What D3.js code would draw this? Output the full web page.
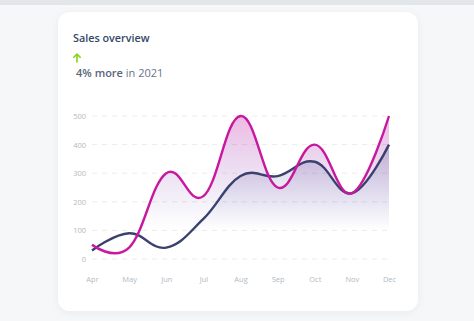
<!DOCTYPE html>
<html>
<head>
<meta charset="utf-8">
<script src="https://cdn.jsdelivr.net/npm/d3@7"></script>
<style>
  html, body { margin: 0; padding: 0; background: #f6f7f8; width: 474px; height: 321px; overflow: hidden; font-family: "Open Sans", sans-serif; }
  svg { display: block; }
</style>
</head>
<body>
<svg id="chart" width="474" height="321"></svg>
<script>
const months = ["Apr", "May", "Jun", "Jul", "Aug", "Sep", "Oct", "Nov", "Dec"];
const mobileApps = [50, 40, 300, 220, 500, 250, 400, 230, 500];
const websites = [30, 90, 40, 140, 290, 290, 340, 230, 400];
const yTicks = [0, 100, 200, 300, 400, 500];

const svg = d3.select("#chart");
const defs = svg.append("defs");

// page background top band
svg.append("rect").attr("x", 0).attr("y", 0).attr("width", 474).attr("height", 5).attr("fill", "#e3e6e8");

// card shadow + card
const f = defs.append("filter").attr("id", "sh").attr("x", "-10%").attr("y", "-10%").attr("width", "120%").attr("height", "120%");
f.append("feDropShadow").attr("dx", 0).attr("dy", 2).attr("stdDeviation", 4).attr("flood-color", "#000").attr("flood-opacity", 0.05);
svg.append("rect").attr("x", 58).attr("y", 12).attr("width", 360).attr("height", 299).attr("rx", 12)
  .attr("fill", "#ffffff").attr("filter", "url(#sh)");

// header texts
svg.append("text").attr("x", 73).attr("y", 42).attr("font-size", 10.8).attr("font-weight", 600)
  .attr("fill", "#344767").text("Sales overview");
// green arrow
const ag = svg.append("g").attr("transform", "translate(77,58)");
ag.append("path").attr("d", "M0,-4 L0,4 M-3.2,-0.8 L0,-4 L3.2,-0.8").attr("stroke", "#82d616")
  .attr("stroke-width", 1.6).attr("fill", "none").attr("stroke-linecap", "round").attr("stroke-linejoin", "round");
const sub = svg.append("text").attr("x", 76).attr("y", 77).attr("font-size", 11).attr("fill", "#67748e");
sub.append("tspan").attr("font-weight", 600).attr("fill", "#5a6478").text("4% more");
sub.append("tspan").text(" in 2021");

// scales
const x = d3.scalePoint().domain(months).range([92, 389]);
const y = d3.scaleLinear().domain([0, 500]).range([259, 116]);

// grid
svg.append("g").selectAll("line").data(yTicks).join("line")
  .attr("x1", 92).attr("x2", 390)
  .attr("y1", d => y(d)).attr("y2", d => y(d))
  .attr("stroke", "#e9ecef").attr("stroke-width", 1).attr("stroke-dasharray", "5,5");

// y axis labels
const yAxis = d3.axisLeft(y).tickValues(yTicks).tickSize(0).tickPadding(0);
const ya = svg.append("g").attr("transform", "translate(86,0)").call(yAxis);
ya.select(".domain").remove();
ya.selectAll("text").attr("font-size", 7.5).attr("fill", "#b2b9bf").attr("font-family", "Open Sans, sans-serif").attr("dy", "0.32em");

// x axis labels
const xAxis = d3.axisBottom(x).tickSize(0).tickPadding(0);
const xa = svg.append("g").attr("transform", "translate(0,277)").call(xAxis);
xa.select(".domain").remove();
xa.selectAll("text").attr("font-size", 7.5).attr("fill", "#b2b9bf").attr("font-family", "Open Sans, sans-serif");

// gradients
function grad(id, c, op) {
  const g = defs.append("linearGradient").attr("id", id).attr("gradientUnits", "userSpaceOnUse")
    .attr("x1", 0).attr("x2", 0).attr("y1", 250).attr("y2", 112);
  g.append("stop").attr("offset", 0).attr("stop-color", c).attr("stop-opacity", 0);
  g.append("stop").attr("offset", 0.15).attr("stop-color", "rgb(72,72,176)").attr("stop-opacity", 0);
  g.append("stop").attr("offset", 1).attr("stop-color", c).attr("stop-opacity", op);
}
grad("gPink", "rgb(203,12,159)", 0.3);
grad("gDark", "rgb(40,35,90)", 0.3);

const curve = d3.curveCardinal.tension(-0.2);
const area = d3.area().x((d, i) => x(months[i])).y0(y(0)).y1(d => y(d)).curve(curve);
const line = d3.line().x((d, i) => x(months[i])).y(d => y(d)).curve(curve);

const clip = defs.append("clipPath").attr("id", "clip");
clip.append("rect").attr("x", 80).attr("y", 112).attr("width", 320).attr("height", 150);

const plot = svg.append("g").attr("clip-path", "url(#clip)");
plot.append("path").datum(mobileApps).attr("d", area).attr("fill", "url(#gPink)");
plot.append("path").datum(websites).attr("d", area).attr("fill", "url(#gDark)");
svg.append("path").datum(websites).attr("d", line).attr("fill", "none").attr("stroke", "#3A416F").attr("stroke-width", 2.4);
svg.append("path").datum(mobileApps).attr("d", line).attr("fill", "none").attr("stroke", "#c8189e").attr("stroke-width", 2.4);
</script>
</body>
</html>
